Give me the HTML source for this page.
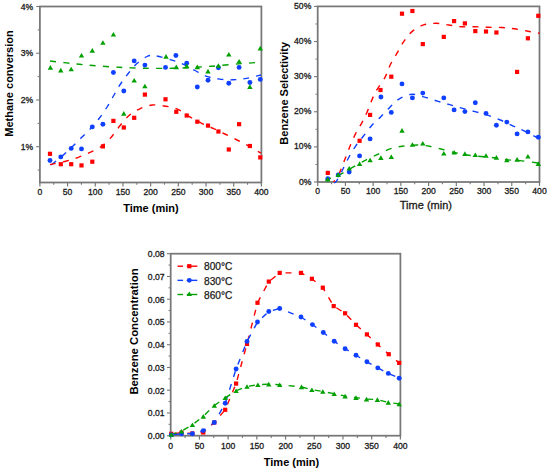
<!DOCTYPE html>
<html><head><meta charset="utf-8"><style>
html,body{margin:0;padding:0;background:#fff;width:550px;height:472px;overflow:hidden}
svg{display:block;font-family:"Liberation Sans", sans-serif}
</style></head><body>
<svg width="550" height="472" viewBox="0 0 550 472">
<rect x="39.9" y="6.5" width="221.5" height="176" fill="none" stroke="#777777" stroke-width="1.75"/>
<line x1="39.9" y1="182.5" x2="39.9" y2="186.4" stroke="#777777" stroke-width="1.2"/>
<line x1="67.59" y1="182.5" x2="67.59" y2="186.4" stroke="#777777" stroke-width="1.2"/>
<line x1="95.28" y1="182.5" x2="95.28" y2="186.4" stroke="#777777" stroke-width="1.2"/>
<line x1="122.96" y1="182.5" x2="122.96" y2="186.4" stroke="#777777" stroke-width="1.2"/>
<line x1="150.65" y1="182.5" x2="150.65" y2="186.4" stroke="#777777" stroke-width="1.2"/>
<line x1="178.34" y1="182.5" x2="178.34" y2="186.4" stroke="#777777" stroke-width="1.2"/>
<line x1="206.03" y1="182.5" x2="206.03" y2="186.4" stroke="#777777" stroke-width="1.2"/>
<line x1="233.71" y1="182.5" x2="233.71" y2="186.4" stroke="#777777" stroke-width="1.2"/>
<line x1="261.4" y1="182.5" x2="261.4" y2="186.4" stroke="#777777" stroke-width="1.2"/>
<line x1="53.74" y1="182.5" x2="53.74" y2="184.7" stroke="#777777" stroke-width="1.1"/>
<line x1="81.43" y1="182.5" x2="81.43" y2="184.7" stroke="#777777" stroke-width="1.1"/>
<line x1="109.12" y1="182.5" x2="109.12" y2="184.7" stroke="#777777" stroke-width="1.1"/>
<line x1="136.81" y1="182.5" x2="136.81" y2="184.7" stroke="#777777" stroke-width="1.1"/>
<line x1="164.49" y1="182.5" x2="164.49" y2="184.7" stroke="#777777" stroke-width="1.1"/>
<line x1="192.18" y1="182.5" x2="192.18" y2="184.7" stroke="#777777" stroke-width="1.1"/>
<line x1="219.87" y1="182.5" x2="219.87" y2="184.7" stroke="#777777" stroke-width="1.1"/>
<line x1="247.56" y1="182.5" x2="247.56" y2="184.7" stroke="#777777" stroke-width="1.1"/>
<line x1="36.2" y1="146.7" x2="39.9" y2="146.7" stroke="#777777" stroke-width="1.1"/>
<line x1="36.2" y1="99.97" x2="39.9" y2="99.97" stroke="#777777" stroke-width="1.1"/>
<line x1="36.2" y1="53.24" x2="39.9" y2="53.24" stroke="#777777" stroke-width="1.1"/>
<line x1="36.2" y1="6.51" x2="39.9" y2="6.51" stroke="#777777" stroke-width="1.1"/>
<line x1="37.7" y1="170.06" x2="39.9" y2="170.06" stroke="#777777" stroke-width="1"/>
<line x1="37.7" y1="123.33" x2="39.9" y2="123.33" stroke="#777777" stroke-width="1"/>
<line x1="37.7" y1="76.6" x2="39.9" y2="76.6" stroke="#777777" stroke-width="1"/>
<line x1="37.7" y1="29.88" x2="39.9" y2="29.88" stroke="#777777" stroke-width="1"/>
<text x="39.9" y="195" font-size="8.6" text-anchor="middle" font-weight="normal" fill="#1a1a1a" stroke="#1a1a1a" stroke-width="0.3">0</text>
<text x="67.59" y="195" font-size="8.6" text-anchor="middle" font-weight="normal" fill="#1a1a1a" stroke="#1a1a1a" stroke-width="0.3">50</text>
<text x="95.28" y="195" font-size="8.6" text-anchor="middle" font-weight="normal" fill="#1a1a1a" stroke="#1a1a1a" stroke-width="0.3">100</text>
<text x="122.96" y="195" font-size="8.6" text-anchor="middle" font-weight="normal" fill="#1a1a1a" stroke="#1a1a1a" stroke-width="0.3">150</text>
<text x="150.65" y="195" font-size="8.6" text-anchor="middle" font-weight="normal" fill="#1a1a1a" stroke="#1a1a1a" stroke-width="0.3">200</text>
<text x="178.34" y="195" font-size="8.6" text-anchor="middle" font-weight="normal" fill="#1a1a1a" stroke="#1a1a1a" stroke-width="0.3">250</text>
<text x="206.03" y="195" font-size="8.6" text-anchor="middle" font-weight="normal" fill="#1a1a1a" stroke="#1a1a1a" stroke-width="0.3">300</text>
<text x="233.71" y="195" font-size="8.6" text-anchor="middle" font-weight="normal" fill="#1a1a1a" stroke="#1a1a1a" stroke-width="0.3">350</text>
<text x="261.4" y="195" font-size="8.6" text-anchor="middle" font-weight="normal" fill="#1a1a1a" stroke="#1a1a1a" stroke-width="0.3">400</text>
<text x="33.2" y="149.8" font-size="8.6" text-anchor="end" font-weight="normal" fill="#1a1a1a" stroke="#1a1a1a" stroke-width="0.3">1%</text>
<text x="33.2" y="103.07" font-size="8.6" text-anchor="end" font-weight="normal" fill="#1a1a1a" stroke="#1a1a1a" stroke-width="0.3">2%</text>
<text x="33.2" y="56.34" font-size="8.6" text-anchor="end" font-weight="normal" fill="#1a1a1a" stroke="#1a1a1a" stroke-width="0.3">3%</text>
<text x="33.2" y="9.61" font-size="8.6" text-anchor="end" font-weight="normal" fill="#1a1a1a" stroke="#1a1a1a" stroke-width="0.3">4%</text>
<text x="12.9" y="83.5" font-size="11" text-anchor="middle" font-weight="bold" fill="#000" transform="rotate(-90 12.9 83.5)">Methane conversion</text>
<text x="150.9" y="211.8" font-size="11" text-anchor="middle" font-weight="bold" fill="#000">Time (min)</text>
<path d="M50 166 C52.15 164.23 59.17 158.63 62.9 155.4 C66.63 152.17 69.22 149.65 72.4 146.6 C75.58 143.55 78.82 140.27 82 137.1 C85.18 133.93 88.58 130.78 91.5 127.6 C94.42 124.42 96.85 121.52 99.5 118 C102.15 114.48 104.98 110.33 107.4 106.5 C109.82 102.67 111.82 98.75 114 95 C116.18 91.25 118.17 87.53 120.5 84 C122.83 80.47 125.32 77.17 128 73.8 C130.68 70.43 133.43 66.68 136.6 63.8 C139.77 60.92 144.27 57.88 147 56.5 C149.73 55.12 151 55.5 153 55.5 C155 55.5 155.83 55.73 159 56.5 C162.17 57.27 167.83 58.75 172 60.1 C176.17 61.45 180.17 62.87 184 64.6 C187.83 66.33 191.2 68.53 195 70.5 C198.8 72.47 202.7 74.97 206.8 76.4 C210.9 77.83 215.23 78.53 219.6 79.1 C223.97 79.67 228.5 79.92 233 79.8 C237.5 79.68 241.93 79.2 246.6 78.4 C251.27 77.6 258.6 75.57 261 75" fill="none" stroke="#1040ff" stroke-width="1.4" stroke-dasharray="6.0 7.00" stroke-dashoffset="11.19"/>
<path d="M50 164.6 C52.75 164 61.77 162.22 66.5 161 C71.23 159.78 74.57 158.68 78.4 157.3 C82.23 155.92 85.8 154.42 89.5 152.7 C93.2 150.98 97.15 149.38 100.6 147 C104.05 144.62 107.02 141.9 110.2 138.4 C113.38 134.9 116.57 129.82 119.7 126 C122.83 122.18 125.65 118.37 129 115.5 C132.35 112.63 135.93 110.55 139.8 108.8 C143.67 107.05 147.88 105.43 152.2 105 C156.52 104.57 161.47 105.5 165.7 106.2 C169.93 106.9 173.65 107.45 177.6 109.2 C181.55 110.95 185.38 114.35 189.4 116.7 C193.42 119.05 197.67 121.32 201.7 123.3 C205.73 125.28 209.75 126.82 213.6 128.6 C217.45 130.38 220.9 132.1 224.8 134 C228.7 135.9 233.03 138.02 237 140 C240.97 141.98 244.6 143.7 248.6 145.9 C252.6 148.1 258.93 151.98 261 153.2" fill="none" stroke="#ff0000" stroke-width="1.4" stroke-dasharray="6.0 7.27" stroke-dashoffset="0.13"/>
<path d="M50 61 C52.73 61.32 61.47 62.35 66.4 62.9 C71.33 63.45 75.23 63.87 79.6 64.3 C83.97 64.73 86.03 65 92.6 65.5 C99.17 66 110.1 66.83 119 67.3 C127.9 67.77 137.17 68.13 146 68.3 C154.83 68.47 164.67 68.42 172 68.3 C179.33 68.18 183.4 67.95 190 67.6 C196.6 67.25 203.5 66.82 211.6 66.2 C219.7 65.58 230.37 64.57 238.6 63.9 C246.83 63.23 257.27 62.48 261 62.2" fill="none" stroke="#00a000" stroke-width="1.4" stroke-dasharray="6.0 7.29" stroke-dashoffset="13.19"/>
<rect x="47.9" y="151.7" width="4.2" height="4.2" fill="#ff0000"/>
<rect x="58.7" y="162.1" width="4.2" height="4.2" fill="#ff0000"/>
<rect x="69.1" y="162.1" width="4.2" height="4.2" fill="#ff0000"/>
<rect x="79.4" y="163.3" width="4.2" height="4.2" fill="#ff0000"/>
<rect x="90.2" y="159.6" width="4.2" height="4.2" fill="#ff0000"/>
<rect x="100.8" y="144.3" width="4.2" height="4.2" fill="#ff0000"/>
<rect x="111.3" y="118.8" width="4.2" height="4.2" fill="#ff0000"/>
<rect x="121.7" y="125.4" width="4.2" height="4.2" fill="#ff0000"/>
<rect x="132.1" y="115.7" width="4.2" height="4.2" fill="#ff0000"/>
<rect x="142.8" y="92.5" width="4.2" height="4.2" fill="#ff0000"/>
<rect x="163.4" y="97.2" width="4.2" height="4.2" fill="#ff0000"/>
<rect x="174.2" y="109.7" width="4.2" height="4.2" fill="#ff0000"/>
<rect x="184.6" y="113.4" width="4.2" height="4.2" fill="#ff0000"/>
<rect x="195.2" y="119.6" width="4.2" height="4.2" fill="#ff0000"/>
<rect x="205.9" y="123.5" width="4.2" height="4.2" fill="#ff0000"/>
<rect x="216.3" y="129.4" width="4.2" height="4.2" fill="#ff0000"/>
<rect x="226.7" y="147.4" width="4.2" height="4.2" fill="#ff0000"/>
<rect x="237" y="122.1" width="4.2" height="4.2" fill="#ff0000"/>
<rect x="247.8" y="143.9" width="4.2" height="4.2" fill="#ff0000"/>
<rect x="258.2" y="155.3" width="4.2" height="4.2" fill="#ff0000"/>
<circle cx="50" cy="160.5" r="2.45" fill="#1040ff"/>
<circle cx="60.8" cy="156.9" r="2.45" fill="#1040ff"/>
<circle cx="71.2" cy="148.4" r="2.45" fill="#1040ff"/>
<circle cx="81.5" cy="148.9" r="2.45" fill="#1040ff"/>
<circle cx="92.3" cy="126.9" r="2.45" fill="#1040ff"/>
<circle cx="102.9" cy="124.2" r="2.45" fill="#1040ff"/>
<circle cx="113.4" cy="72.5" r="2.45" fill="#1040ff"/>
<circle cx="123.8" cy="91" r="2.45" fill="#1040ff"/>
<circle cx="134.2" cy="60.9" r="2.45" fill="#1040ff"/>
<circle cx="144.9" cy="65.1" r="2.45" fill="#1040ff"/>
<circle cx="165.5" cy="67.4" r="2.45" fill="#1040ff"/>
<circle cx="175.9" cy="55.5" r="2.45" fill="#1040ff"/>
<circle cx="186.7" cy="63.2" r="2.45" fill="#1040ff"/>
<circle cx="197.3" cy="87" r="2.45" fill="#1040ff"/>
<circle cx="208" cy="80.2" r="2.45" fill="#1040ff"/>
<circle cx="218.4" cy="67.8" r="2.45" fill="#1040ff"/>
<circle cx="228.8" cy="83.3" r="2.45" fill="#1040ff"/>
<circle cx="239.1" cy="67.4" r="2.45" fill="#1040ff"/>
<circle cx="249.9" cy="82.5" r="2.45" fill="#1040ff"/>
<circle cx="260.3" cy="79.4" r="2.45" fill="#1040ff"/>
<path d="M47.7 69.7L50.4 65.1L53.1 69.7Z" fill="#00a000"/>
<path d="M58.1 72.4L60.8 67.8L63.5 72.4Z" fill="#00a000"/>
<path d="M68.5 71.3L71.2 66.7L73.9 71.3Z" fill="#00a000"/>
<path d="M78.8 57.6L81.5 53L84.2 57.6Z" fill="#00a000"/>
<path d="M89.6 52.7L92.3 48.1L95 52.7Z" fill="#00a000"/>
<path d="M100.2 44.8L102.9 40.2L105.6 44.8Z" fill="#00a000"/>
<path d="M110.7 36.5L113.4 31.9L116.1 36.5Z" fill="#00a000"/>
<path d="M121.1 115.7L123.8 111.1L126.5 115.7Z" fill="#00a000"/>
<path d="M131.5 82.5L134.2 77.9L136.9 82.5Z" fill="#00a000"/>
<path d="M142.2 88.3L144.9 83.7L147.6 88.3Z" fill="#00a000"/>
<path d="M163.3 58.7L166 54.1L168.7 58.7Z" fill="#00a000"/>
<path d="M173.6 69.2L176.3 64.6L179 69.2Z" fill="#00a000"/>
<path d="M184 68.2L186.7 63.6L189.4 68.2Z" fill="#00a000"/>
<path d="M194.6 69.2L197.3 64.6L200 69.2Z" fill="#00a000"/>
<path d="M205.3 73.4L208 68.8L210.7 73.4Z" fill="#00a000"/>
<path d="M215.7 67.8L218.4 63.2L221.1 67.8Z" fill="#00a000"/>
<path d="M226.1 56.6L228.8 52L231.5 56.6Z" fill="#00a000"/>
<path d="M236.4 63.6L239.1 59L241.8 63.6Z" fill="#00a000"/>
<path d="M247.2 88.9L249.9 84.3L252.6 88.9Z" fill="#00a000"/>
<path d="M257.6 50.4L260.3 45.8L263 50.4Z" fill="#00a000"/>
<rect x="317.7" y="6.4" width="221.8" height="175.6" fill="none" stroke="#777777" stroke-width="1.75"/>
<line x1="317.7" y1="182" x2="317.7" y2="185.9" stroke="#777777" stroke-width="1.2"/>
<line x1="345.43" y1="182" x2="345.43" y2="185.9" stroke="#777777" stroke-width="1.2"/>
<line x1="373.15" y1="182" x2="373.15" y2="185.9" stroke="#777777" stroke-width="1.2"/>
<line x1="400.88" y1="182" x2="400.88" y2="185.9" stroke="#777777" stroke-width="1.2"/>
<line x1="428.6" y1="182" x2="428.6" y2="185.9" stroke="#777777" stroke-width="1.2"/>
<line x1="456.32" y1="182" x2="456.32" y2="185.9" stroke="#777777" stroke-width="1.2"/>
<line x1="484.05" y1="182" x2="484.05" y2="185.9" stroke="#777777" stroke-width="1.2"/>
<line x1="511.77" y1="182" x2="511.77" y2="185.9" stroke="#777777" stroke-width="1.2"/>
<line x1="539.5" y1="182" x2="539.5" y2="185.9" stroke="#777777" stroke-width="1.2"/>
<line x1="331.56" y1="182" x2="331.56" y2="184.2" stroke="#777777" stroke-width="1.1"/>
<line x1="359.29" y1="182" x2="359.29" y2="184.2" stroke="#777777" stroke-width="1.1"/>
<line x1="387.01" y1="182" x2="387.01" y2="184.2" stroke="#777777" stroke-width="1.1"/>
<line x1="414.74" y1="182" x2="414.74" y2="184.2" stroke="#777777" stroke-width="1.1"/>
<line x1="442.46" y1="182" x2="442.46" y2="184.2" stroke="#777777" stroke-width="1.1"/>
<line x1="470.19" y1="182" x2="470.19" y2="184.2" stroke="#777777" stroke-width="1.1"/>
<line x1="497.91" y1="182" x2="497.91" y2="184.2" stroke="#777777" stroke-width="1.1"/>
<line x1="525.64" y1="182" x2="525.64" y2="184.2" stroke="#777777" stroke-width="1.1"/>
<line x1="314" y1="182" x2="317.7" y2="182" stroke="#777777" stroke-width="1.1"/>
<line x1="314" y1="146.88" x2="317.7" y2="146.88" stroke="#777777" stroke-width="1.1"/>
<line x1="314" y1="111.76" x2="317.7" y2="111.76" stroke="#777777" stroke-width="1.1"/>
<line x1="314" y1="76.64" x2="317.7" y2="76.64" stroke="#777777" stroke-width="1.1"/>
<line x1="314" y1="41.52" x2="317.7" y2="41.52" stroke="#777777" stroke-width="1.1"/>
<line x1="314" y1="6.4" x2="317.7" y2="6.4" stroke="#777777" stroke-width="1.1"/>
<line x1="315.5" y1="164.44" x2="317.7" y2="164.44" stroke="#777777" stroke-width="1"/>
<line x1="315.5" y1="129.32" x2="317.7" y2="129.32" stroke="#777777" stroke-width="1"/>
<line x1="315.5" y1="94.2" x2="317.7" y2="94.2" stroke="#777777" stroke-width="1"/>
<line x1="315.5" y1="59.08" x2="317.7" y2="59.08" stroke="#777777" stroke-width="1"/>
<line x1="315.5" y1="23.96" x2="317.7" y2="23.96" stroke="#777777" stroke-width="1"/>
<text x="317.7" y="194.1" font-size="8.6" text-anchor="middle" font-weight="normal" fill="#1a1a1a" stroke="#1a1a1a" stroke-width="0.3">0</text>
<text x="345.43" y="194.1" font-size="8.6" text-anchor="middle" font-weight="normal" fill="#1a1a1a" stroke="#1a1a1a" stroke-width="0.3">50</text>
<text x="373.15" y="194.1" font-size="8.6" text-anchor="middle" font-weight="normal" fill="#1a1a1a" stroke="#1a1a1a" stroke-width="0.3">100</text>
<text x="400.88" y="194.1" font-size="8.6" text-anchor="middle" font-weight="normal" fill="#1a1a1a" stroke="#1a1a1a" stroke-width="0.3">150</text>
<text x="428.6" y="194.1" font-size="8.6" text-anchor="middle" font-weight="normal" fill="#1a1a1a" stroke="#1a1a1a" stroke-width="0.3">200</text>
<text x="456.32" y="194.1" font-size="8.6" text-anchor="middle" font-weight="normal" fill="#1a1a1a" stroke="#1a1a1a" stroke-width="0.3">250</text>
<text x="484.05" y="194.1" font-size="8.6" text-anchor="middle" font-weight="normal" fill="#1a1a1a" stroke="#1a1a1a" stroke-width="0.3">300</text>
<text x="511.77" y="194.1" font-size="8.6" text-anchor="middle" font-weight="normal" fill="#1a1a1a" stroke="#1a1a1a" stroke-width="0.3">350</text>
<text x="539.5" y="194.1" font-size="8.6" text-anchor="middle" font-weight="normal" fill="#1a1a1a" stroke="#1a1a1a" stroke-width="0.3">400</text>
<text x="311.3" y="184.6" font-size="8.6" text-anchor="end" font-weight="normal" fill="#1a1a1a" stroke="#1a1a1a" stroke-width="0.3">0%</text>
<text x="311.3" y="149.48" font-size="8.6" text-anchor="end" font-weight="normal" fill="#1a1a1a" stroke="#1a1a1a" stroke-width="0.3">10%</text>
<text x="311.3" y="114.36" font-size="8.6" text-anchor="end" font-weight="normal" fill="#1a1a1a" stroke="#1a1a1a" stroke-width="0.3">20%</text>
<text x="311.3" y="79.24" font-size="8.6" text-anchor="end" font-weight="normal" fill="#1a1a1a" stroke="#1a1a1a" stroke-width="0.3">30%</text>
<text x="311.3" y="44.12" font-size="8.6" text-anchor="end" font-weight="normal" fill="#1a1a1a" stroke="#1a1a1a" stroke-width="0.3">40%</text>
<text x="311.3" y="9" font-size="8.6" text-anchor="end" font-weight="normal" fill="#1a1a1a" stroke="#1a1a1a" stroke-width="0.3">50%</text>
<text x="288.4" y="93.3" font-size="11" text-anchor="middle" font-weight="bold" fill="#000" transform="rotate(-90 288.4 93.3)">Benzene Selectivity</text>
<text x="425.9" y="209" font-size="11" text-anchor="middle" font-weight="normal" fill="#1a1a1a" stroke="#1a1a1a" stroke-width="0.3">Time (min)</text>
<path d="M333.5 182 C334.3 180.93 336.45 179.25 338.3 175.6 C340.15 171.95 342.62 165.07 344.6 160.1 C346.58 155.13 348.28 150.38 350.2 145.8 C352.12 141.22 354.18 136.38 356.1 132.6 C358.02 128.82 359.83 126.6 361.7 123.1 C363.57 119.6 365.08 116.62 367.3 111.6 C369.52 106.58 372.05 98.72 375 93 C377.95 87.28 382.47 81.97 385 77.3 C387.53 72.63 388.2 69.03 390.2 65 C392.2 60.97 394.75 57 397 53.1 C399.25 49.2 401.2 45.18 403.7 41.6 C406.2 38.02 408.68 34.38 412 31.6 C415.32 28.82 419.53 26.28 423.6 24.9 C427.67 23.52 432.2 23.28 436.4 23.3 C440.6 23.32 444.62 24.42 448.8 25 C452.98 25.58 457.17 26.5 461.5 26.8 C465.83 27.1 470.38 26.72 474.8 26.8 C479.22 26.88 483.52 27.18 488 27.3 C492.48 27.42 497.28 27.25 501.7 27.5 C506.12 27.75 510.12 28.18 514.5 28.8 C518.88 29.42 523.83 30.45 528 31.2 C532.17 31.95 537.58 32.95 539.5 33.3" fill="none" stroke="#ff0000" stroke-width="1.4" stroke-dasharray="6.0 7.17" stroke-dashoffset="3.78"/>
<path d="M334 183 C334.38 182.72 334.98 183.27 336.3 181.3 C337.62 179.33 339.92 175 341.9 171.2 C343.88 167.4 345.88 162.73 348.2 158.5 C350.52 154.27 353.22 149.58 355.8 145.8 C358.38 142.02 361.05 139.18 363.7 135.8 C366.35 132.42 368.88 128.63 371.7 125.5 C374.52 122.37 377.6 120.02 380.6 117 C383.6 113.98 386.52 110.47 389.7 107.4 C392.88 104.33 395.98 100.78 399.7 98.6 C403.42 96.42 407.83 94.55 412 94.3 C416.17 94.05 420.47 95.97 424.7 97.1 C428.93 98.23 433.23 99.83 437.4 101.1 C441.57 102.37 445.67 103.53 449.7 104.7 C453.73 105.87 457.38 106.95 461.6 108.1 C465.82 109.25 470.7 110.43 475 111.6 C479.3 112.77 483.18 113.7 487.4 115.1 C491.62 116.5 496.08 118.22 500.3 120 C504.52 121.78 508.65 123.93 512.7 125.8 C516.75 127.67 520.13 129.03 524.6 131.2 C529.07 133.37 537.02 137.53 539.5 138.8" fill="none" stroke="#1040ff" stroke-width="1.4" stroke-dasharray="6.0 7.14" stroke-dashoffset="12.97"/>
<path d="M322 181.8 C322.92 181.42 324.47 180.73 327.5 179.5 C330.53 178.27 335.95 176.45 340.2 174.4 C344.45 172.35 348.75 169.58 353 167.2 C357.25 164.82 361.47 162.28 365.7 160.1 C369.93 157.92 374.22 156.02 378.4 154.1 C382.58 152.18 386.8 149.92 390.8 148.6 C394.8 147.28 397.95 146.8 402.4 146.2 C406.85 145.6 412.98 145 417.5 145 C422.02 145 425.45 145.5 429.5 146.2 C433.55 146.9 437.55 148.13 441.8 149.2 C446.05 150.27 450.8 151.63 455 152.6 C459.2 153.57 462.67 154.35 467 155 C471.33 155.65 476.33 156.03 481 156.5 C485.67 156.97 490.67 157.25 495 157.8 C499.33 158.35 502.83 159.33 507 159.8 C511.17 160.27 514.58 160.03 520 160.6 C525.42 161.17 536.25 162.77 539.5 163.2" fill="none" stroke="#00a000" stroke-width="1.4" stroke-dasharray="6.0 7.46" stroke-dashoffset="9.49"/>
<rect x="325.7" y="170.8" width="4.2" height="4.2" fill="#ff0000"/>
<rect x="357.5" y="138.7" width="4.2" height="4.2" fill="#ff0000"/>
<rect x="368" y="112.8" width="4.2" height="4.2" fill="#ff0000"/>
<rect x="378.4" y="87.9" width="4.2" height="4.2" fill="#ff0000"/>
<rect x="389.2" y="74.6" width="4.2" height="4.2" fill="#ff0000"/>
<rect x="399.9" y="11.6" width="4.2" height="4.2" fill="#ff0000"/>
<rect x="410.3" y="8.9" width="4.2" height="4.2" fill="#ff0000"/>
<rect x="420.7" y="42" width="4.2" height="4.2" fill="#ff0000"/>
<rect x="441.7" y="34.8" width="4.2" height="4.2" fill="#ff0000"/>
<rect x="452" y="19" width="4.2" height="4.2" fill="#ff0000"/>
<rect x="462.8" y="21.3" width="4.2" height="4.2" fill="#ff0000"/>
<rect x="473.2" y="29" width="4.2" height="4.2" fill="#ff0000"/>
<rect x="483.9" y="29.4" width="4.2" height="4.2" fill="#ff0000"/>
<rect x="494.3" y="30.4" width="4.2" height="4.2" fill="#ff0000"/>
<rect x="515" y="69.8" width="4.2" height="4.2" fill="#ff0000"/>
<rect x="525.8" y="36.2" width="4.2" height="4.2" fill="#ff0000"/>
<rect x="536.2" y="13.7" width="4.2" height="4.2" fill="#ff0000"/>
<circle cx="327.8" cy="178.7" r="2.45" fill="#1040ff"/>
<circle cx="338.2" cy="175" r="2.45" fill="#1040ff"/>
<circle cx="349.2" cy="172.1" r="2.45" fill="#1040ff"/>
<circle cx="359.6" cy="155.9" r="2.45" fill="#1040ff"/>
<circle cx="370.1" cy="138.9" r="2.45" fill="#1040ff"/>
<circle cx="380.9" cy="97" r="2.45" fill="#1040ff"/>
<circle cx="391.3" cy="112.4" r="2.45" fill="#1040ff"/>
<circle cx="402" cy="83.9" r="2.45" fill="#1040ff"/>
<circle cx="412.4" cy="97.9" r="2.45" fill="#1040ff"/>
<circle cx="422.8" cy="93.1" r="2.45" fill="#1040ff"/>
<circle cx="443.8" cy="97.9" r="2.45" fill="#1040ff"/>
<circle cx="454.1" cy="109.9" r="2.45" fill="#1040ff"/>
<circle cx="464.9" cy="111.6" r="2.45" fill="#1040ff"/>
<circle cx="475.3" cy="102.8" r="2.45" fill="#1040ff"/>
<circle cx="486" cy="113.4" r="2.45" fill="#1040ff"/>
<circle cx="496.4" cy="125.2" r="2.45" fill="#1040ff"/>
<circle cx="506.8" cy="122.1" r="2.45" fill="#1040ff"/>
<circle cx="517.1" cy="133.9" r="2.45" fill="#1040ff"/>
<circle cx="527.9" cy="131.9" r="2.45" fill="#1040ff"/>
<circle cx="538.3" cy="137.3" r="2.45" fill="#1040ff"/>
<path d="M325.1 181.4L327.8 176.8L330.5 181.4Z" fill="#00a000"/>
<path d="M335.5 176.9L338.2 172.3L340.9 176.9Z" fill="#00a000"/>
<path d="M346.5 170.6L349.2 166L351.9 170.6Z" fill="#00a000"/>
<path d="M356.9 165.9L359.6 161.3L362.3 165.9Z" fill="#00a000"/>
<path d="M367.4 162.3L370.1 157.7L372.8 162.3Z" fill="#00a000"/>
<path d="M378.2 159.9L380.9 155.3L383.6 159.9Z" fill="#00a000"/>
<path d="M388.6 159L391.3 154.4L394 159Z" fill="#00a000"/>
<path d="M399.3 132.7L402 128.1L404.7 132.7Z" fill="#00a000"/>
<path d="M409.7 146.8L412.4 142.2L415.1 146.8Z" fill="#00a000"/>
<path d="M420.1 145.6L422.8 141L425.5 145.6Z" fill="#00a000"/>
<path d="M441.1 155.5L443.8 150.9L446.5 155.5Z" fill="#00a000"/>
<path d="M451.4 154.5L454.1 149.9L456.8 154.5Z" fill="#00a000"/>
<path d="M462.2 155.9L464.9 151.3L467.6 155.9Z" fill="#00a000"/>
<path d="M472.6 157L475.3 152.4L478 157Z" fill="#00a000"/>
<path d="M483.3 157.8L486 153.2L488.7 157.8Z" fill="#00a000"/>
<path d="M493.7 159.7L496.4 155.1L499.1 159.7Z" fill="#00a000"/>
<path d="M504.1 162.3L506.8 157.7L509.5 162.3Z" fill="#00a000"/>
<path d="M514.4 161.7L517.1 157.1L519.8 161.7Z" fill="#00a000"/>
<path d="M525.2 158.6L527.9 154L530.6 158.6Z" fill="#00a000"/>
<path d="M535.6 165.9L538.3 161.3L541 165.9Z" fill="#00a000"/>
<rect x="170.7" y="253.7" width="229.7" height="182" fill="none" stroke="#777777" stroke-width="1.75"/>
<line x1="170.7" y1="435.7" x2="170.7" y2="439.6" stroke="#777777" stroke-width="1.2"/>
<line x1="199.41" y1="435.7" x2="199.41" y2="439.6" stroke="#777777" stroke-width="1.2"/>
<line x1="228.12" y1="435.7" x2="228.12" y2="439.6" stroke="#777777" stroke-width="1.2"/>
<line x1="256.84" y1="435.7" x2="256.84" y2="439.6" stroke="#777777" stroke-width="1.2"/>
<line x1="285.55" y1="435.7" x2="285.55" y2="439.6" stroke="#777777" stroke-width="1.2"/>
<line x1="314.26" y1="435.7" x2="314.26" y2="439.6" stroke="#777777" stroke-width="1.2"/>
<line x1="342.97" y1="435.7" x2="342.97" y2="439.6" stroke="#777777" stroke-width="1.2"/>
<line x1="371.69" y1="435.7" x2="371.69" y2="439.6" stroke="#777777" stroke-width="1.2"/>
<line x1="400.4" y1="435.7" x2="400.4" y2="439.6" stroke="#777777" stroke-width="1.2"/>
<line x1="185.06" y1="435.7" x2="185.06" y2="437.9" stroke="#777777" stroke-width="1.1"/>
<line x1="213.77" y1="435.7" x2="213.77" y2="437.9" stroke="#777777" stroke-width="1.1"/>
<line x1="242.48" y1="435.7" x2="242.48" y2="437.9" stroke="#777777" stroke-width="1.1"/>
<line x1="271.19" y1="435.7" x2="271.19" y2="437.9" stroke="#777777" stroke-width="1.1"/>
<line x1="299.91" y1="435.7" x2="299.91" y2="437.9" stroke="#777777" stroke-width="1.1"/>
<line x1="328.62" y1="435.7" x2="328.62" y2="437.9" stroke="#777777" stroke-width="1.1"/>
<line x1="357.33" y1="435.7" x2="357.33" y2="437.9" stroke="#777777" stroke-width="1.1"/>
<line x1="386.04" y1="435.7" x2="386.04" y2="437.9" stroke="#777777" stroke-width="1.1"/>
<line x1="167" y1="435.7" x2="170.7" y2="435.7" stroke="#777777" stroke-width="1.1"/>
<line x1="167" y1="412.95" x2="170.7" y2="412.95" stroke="#777777" stroke-width="1.1"/>
<line x1="167" y1="390.2" x2="170.7" y2="390.2" stroke="#777777" stroke-width="1.1"/>
<line x1="167" y1="367.45" x2="170.7" y2="367.45" stroke="#777777" stroke-width="1.1"/>
<line x1="167" y1="344.7" x2="170.7" y2="344.7" stroke="#777777" stroke-width="1.1"/>
<line x1="167" y1="321.95" x2="170.7" y2="321.95" stroke="#777777" stroke-width="1.1"/>
<line x1="167" y1="299.2" x2="170.7" y2="299.2" stroke="#777777" stroke-width="1.1"/>
<line x1="167" y1="276.45" x2="170.7" y2="276.45" stroke="#777777" stroke-width="1.1"/>
<line x1="167" y1="253.7" x2="170.7" y2="253.7" stroke="#777777" stroke-width="1.1"/>
<line x1="168.5" y1="424.32" x2="170.7" y2="424.32" stroke="#777777" stroke-width="1"/>
<line x1="168.5" y1="401.57" x2="170.7" y2="401.57" stroke="#777777" stroke-width="1"/>
<line x1="168.5" y1="378.82" x2="170.7" y2="378.82" stroke="#777777" stroke-width="1"/>
<line x1="168.5" y1="356.07" x2="170.7" y2="356.07" stroke="#777777" stroke-width="1"/>
<line x1="168.5" y1="333.32" x2="170.7" y2="333.32" stroke="#777777" stroke-width="1"/>
<line x1="168.5" y1="310.57" x2="170.7" y2="310.57" stroke="#777777" stroke-width="1"/>
<line x1="168.5" y1="287.82" x2="170.7" y2="287.82" stroke="#777777" stroke-width="1"/>
<line x1="168.5" y1="265.07" x2="170.7" y2="265.07" stroke="#777777" stroke-width="1"/>
<text x="170.7" y="449.1" font-size="8.6" text-anchor="middle" font-weight="normal" fill="#1a1a1a" stroke="#1a1a1a" stroke-width="0.3">0</text>
<text x="199.41" y="449.1" font-size="8.6" text-anchor="middle" font-weight="normal" fill="#1a1a1a" stroke="#1a1a1a" stroke-width="0.3">50</text>
<text x="228.12" y="449.1" font-size="8.6" text-anchor="middle" font-weight="normal" fill="#1a1a1a" stroke="#1a1a1a" stroke-width="0.3">100</text>
<text x="256.84" y="449.1" font-size="8.6" text-anchor="middle" font-weight="normal" fill="#1a1a1a" stroke="#1a1a1a" stroke-width="0.3">150</text>
<text x="285.55" y="449.1" font-size="8.6" text-anchor="middle" font-weight="normal" fill="#1a1a1a" stroke="#1a1a1a" stroke-width="0.3">200</text>
<text x="314.26" y="449.1" font-size="8.6" text-anchor="middle" font-weight="normal" fill="#1a1a1a" stroke="#1a1a1a" stroke-width="0.3">250</text>
<text x="342.97" y="449.1" font-size="8.6" text-anchor="middle" font-weight="normal" fill="#1a1a1a" stroke="#1a1a1a" stroke-width="0.3">300</text>
<text x="371.69" y="449.1" font-size="8.6" text-anchor="middle" font-weight="normal" fill="#1a1a1a" stroke="#1a1a1a" stroke-width="0.3">350</text>
<text x="400.4" y="449.1" font-size="8.6" text-anchor="middle" font-weight="normal" fill="#1a1a1a" stroke="#1a1a1a" stroke-width="0.3">400</text>
<text x="164.6" y="439.2" font-size="8.6" text-anchor="end" font-weight="normal" fill="#1a1a1a" stroke="#1a1a1a" stroke-width="0.3">0.00</text>
<text x="164.6" y="416.45" font-size="8.6" text-anchor="end" font-weight="normal" fill="#1a1a1a" stroke="#1a1a1a" stroke-width="0.3">0.01</text>
<text x="164.6" y="393.7" font-size="8.6" text-anchor="end" font-weight="normal" fill="#1a1a1a" stroke="#1a1a1a" stroke-width="0.3">0.02</text>
<text x="164.6" y="370.95" font-size="8.6" text-anchor="end" font-weight="normal" fill="#1a1a1a" stroke="#1a1a1a" stroke-width="0.3">0.03</text>
<text x="164.6" y="348.2" font-size="8.6" text-anchor="end" font-weight="normal" fill="#1a1a1a" stroke="#1a1a1a" stroke-width="0.3">0.04</text>
<text x="164.6" y="325.45" font-size="8.6" text-anchor="end" font-weight="normal" fill="#1a1a1a" stroke="#1a1a1a" stroke-width="0.3">0.05</text>
<text x="164.6" y="302.7" font-size="8.6" text-anchor="end" font-weight="normal" fill="#1a1a1a" stroke="#1a1a1a" stroke-width="0.3">0.06</text>
<text x="164.6" y="279.95" font-size="8.6" text-anchor="end" font-weight="normal" fill="#1a1a1a" stroke="#1a1a1a" stroke-width="0.3">0.07</text>
<text x="164.6" y="257.2" font-size="8.6" text-anchor="end" font-weight="normal" fill="#1a1a1a" stroke="#1a1a1a" stroke-width="0.3">0.08</text>
<text x="138.4" y="331.5" font-size="11.3" text-anchor="middle" font-weight="bold" fill="#000" transform="rotate(-90 138.4 331.5)">Benzene Concentration</text>
<text x="291.5" y="466.4" font-size="11" text-anchor="middle" font-weight="bold" fill="#000">Time (min)</text>
<path d="M171.3 433.8 L181.5 432.7 L192.4 433.4 L203.3 432.5 L214.3 422.5 L225.2 409.8 L236.1 383.6 L247 343.9 L257.5 302.8 L268.8 281.6 L279.7 272.9" fill="none" stroke="#ff0000" stroke-width="1.4" stroke-dasharray="6.0 7.30" stroke-dashoffset="10.44"/>
<path d="M279.7 272.9 L301 272.9 L311.9 278.8 L322.8 287.7 L333.7 306.1 L345.1 313.3 L356 324.8 L366.9 334.4 L377.8 344.5 L388.7 354.2 L399.2 362.9" fill="none" stroke="#ff0000" stroke-width="1.4" stroke-dasharray="6.0 7.30" stroke-dashoffset="7.51"/>
<path d="M171.3 434.9 L181.5 433.8 L192.4 433.8 L203.3 430.6 L214.3 422.5 L225.2 403.3 L236.1 369 L247 341.4 L257.5 322 L268.8 311.5 L279.7 308.5" fill="none" stroke="#1040ff" stroke-width="1.4" stroke-dasharray="6.0 7.30" stroke-dashoffset="10.60"/>
<path d="M279.7 308.5 L301 317 L312.4 324.6 L323.3 332.5 L334.2 341.2 L345.1 348.7 L356 355.3 L366.9 361.8 L377.8 367.9 L388.3 373.4 L399.2 378.2" fill="none" stroke="#1040ff" stroke-width="1.4" stroke-dasharray="6.0 7.30" stroke-dashoffset="4.31"/>
<path d="M171.3 434.5 L181.5 431.2 L192.4 424.7 L203.3 416.4 L214.3 405.5 L225.2 397.8 L236.1 390.8 L247 386.5 L257.9 384.7 L268.8 384.1 L279.7 384.7 L301.5 386.9 L311.9 389.7 L322.8 391.5 L334.2 393.7 L345.1 396.1 L356 397.6 L366.5 399.1 L377.4 399.6 L388.3 402.4 L399.2 403.9" fill="none" stroke="#00a000" stroke-width="1.4" stroke-dasharray="6.0 7.30" stroke-dashoffset="0.54"/>
<rect x="169.2" y="431.7" width="4.2" height="4.2" fill="#ff0000"/>
<rect x="179.4" y="430.6" width="4.2" height="4.2" fill="#ff0000"/>
<rect x="190.3" y="431.3" width="4.2" height="4.2" fill="#ff0000"/>
<rect x="201.2" y="430.4" width="4.2" height="4.2" fill="#ff0000"/>
<rect x="212.2" y="420.4" width="4.2" height="4.2" fill="#ff0000"/>
<rect x="223.1" y="407.7" width="4.2" height="4.2" fill="#ff0000"/>
<rect x="234" y="381.5" width="4.2" height="4.2" fill="#ff0000"/>
<rect x="244.9" y="341.8" width="4.2" height="4.2" fill="#ff0000"/>
<rect x="255.4" y="300.7" width="4.2" height="4.2" fill="#ff0000"/>
<rect x="266.7" y="279.5" width="4.2" height="4.2" fill="#ff0000"/>
<rect x="277.6" y="270.8" width="4.2" height="4.2" fill="#ff0000"/>
<rect x="298.9" y="270.8" width="4.2" height="4.2" fill="#ff0000"/>
<rect x="309.8" y="276.7" width="4.2" height="4.2" fill="#ff0000"/>
<rect x="320.7" y="285.6" width="4.2" height="4.2" fill="#ff0000"/>
<rect x="331.6" y="304" width="4.2" height="4.2" fill="#ff0000"/>
<rect x="343" y="311.2" width="4.2" height="4.2" fill="#ff0000"/>
<rect x="353.9" y="322.7" width="4.2" height="4.2" fill="#ff0000"/>
<rect x="364.8" y="332.3" width="4.2" height="4.2" fill="#ff0000"/>
<rect x="375.7" y="342.4" width="4.2" height="4.2" fill="#ff0000"/>
<rect x="386.6" y="352.1" width="4.2" height="4.2" fill="#ff0000"/>
<rect x="397.1" y="360.8" width="4.2" height="4.2" fill="#ff0000"/>
<circle cx="171.3" cy="434.9" r="2.45" fill="#1040ff"/>
<circle cx="181.5" cy="433.8" r="2.45" fill="#1040ff"/>
<circle cx="192.4" cy="433.8" r="2.45" fill="#1040ff"/>
<circle cx="203.3" cy="430.6" r="2.45" fill="#1040ff"/>
<circle cx="214.3" cy="422.5" r="2.45" fill="#1040ff"/>
<circle cx="225.2" cy="403.3" r="2.45" fill="#1040ff"/>
<circle cx="236.1" cy="369" r="2.45" fill="#1040ff"/>
<circle cx="247" cy="341.4" r="2.45" fill="#1040ff"/>
<circle cx="257.5" cy="322" r="2.45" fill="#1040ff"/>
<circle cx="268.8" cy="311.5" r="2.45" fill="#1040ff"/>
<circle cx="279.7" cy="308.5" r="2.45" fill="#1040ff"/>
<circle cx="301" cy="317" r="2.45" fill="#1040ff"/>
<circle cx="312.4" cy="324.6" r="2.45" fill="#1040ff"/>
<circle cx="323.3" cy="332.5" r="2.45" fill="#1040ff"/>
<circle cx="334.2" cy="341.2" r="2.45" fill="#1040ff"/>
<circle cx="345.1" cy="348.7" r="2.45" fill="#1040ff"/>
<circle cx="356" cy="355.3" r="2.45" fill="#1040ff"/>
<circle cx="366.9" cy="361.8" r="2.45" fill="#1040ff"/>
<circle cx="377.8" cy="367.9" r="2.45" fill="#1040ff"/>
<circle cx="388.3" cy="373.4" r="2.45" fill="#1040ff"/>
<circle cx="399.2" cy="378.2" r="2.45" fill="#1040ff"/>
<path d="M168.6 436.8L171.3 432.2L174 436.8Z" fill="#00a000"/>
<path d="M178.8 433.5L181.5 428.9L184.2 433.5Z" fill="#00a000"/>
<path d="M189.7 427L192.4 422.4L195.1 427Z" fill="#00a000"/>
<path d="M200.6 418.7L203.3 414.1L206 418.7Z" fill="#00a000"/>
<path d="M211.6 407.8L214.3 403.2L217 407.8Z" fill="#00a000"/>
<path d="M222.5 400.1L225.2 395.5L227.9 400.1Z" fill="#00a000"/>
<path d="M233.4 393.1L236.1 388.5L238.8 393.1Z" fill="#00a000"/>
<path d="M244.3 388.8L247 384.2L249.7 388.8Z" fill="#00a000"/>
<path d="M255.2 387L257.9 382.4L260.6 387Z" fill="#00a000"/>
<path d="M266.1 386.4L268.8 381.8L271.5 386.4Z" fill="#00a000"/>
<path d="M277 387L279.7 382.4L282.4 387Z" fill="#00a000"/>
<path d="M298.8 389.2L301.5 384.6L304.2 389.2Z" fill="#00a000"/>
<path d="M309.2 392L311.9 387.4L314.6 392Z" fill="#00a000"/>
<path d="M320.1 393.8L322.8 389.2L325.5 393.8Z" fill="#00a000"/>
<path d="M331.5 396L334.2 391.4L336.9 396Z" fill="#00a000"/>
<path d="M342.4 398.4L345.1 393.8L347.8 398.4Z" fill="#00a000"/>
<path d="M353.3 399.9L356 395.3L358.7 399.9Z" fill="#00a000"/>
<path d="M363.8 401.4L366.5 396.8L369.2 401.4Z" fill="#00a000"/>
<path d="M374.7 401.9L377.4 397.3L380.1 401.9Z" fill="#00a000"/>
<path d="M385.6 404.7L388.3 400.1L391 404.7Z" fill="#00a000"/>
<path d="M396.5 406.2L399.2 401.6L401.9 406.2Z" fill="#00a000"/>
<line x1="177.5" y1="266.2" x2="183.1" y2="266.2" stroke="#ff0000" stroke-width="1.4"/>
<line x1="186.8" y1="266.2" x2="197.3" y2="266.2" stroke="#ff0000" stroke-width="1.4"/>
<rect x="187.2" y="264.1" width="4.2" height="4.2" fill="#ff0000"/>
<text x="204" y="270.4" font-size="10.2" fill="#1a1a1a" stroke="#1a1a1a" stroke-width="0.25">800°C</text>
<line x1="177.5" y1="280.35" x2="183.1" y2="280.35" stroke="#1040ff" stroke-width="1.4"/>
<line x1="186.8" y1="280.35" x2="197.3" y2="280.35" stroke="#1040ff" stroke-width="1.4"/>
<circle cx="189.3" cy="280.35" r="2.45" fill="#1040ff"/>
<text x="204" y="284.55" font-size="10.2" fill="#1a1a1a" stroke="#1a1a1a" stroke-width="0.25">830°C</text>
<line x1="177.5" y1="294.5" x2="183.1" y2="294.5" stroke="#00a000" stroke-width="1.4"/>
<line x1="186.8" y1="294.5" x2="197.3" y2="294.5" stroke="#00a000" stroke-width="1.4"/>
<path d="M186.6 296.1L189.3 291.5L192 296.1Z" fill="#00a000"/>
<text x="204" y="298.7" font-size="10.2" fill="#1a1a1a" stroke="#1a1a1a" stroke-width="0.25">860°C</text>
</svg>
</body></html>
